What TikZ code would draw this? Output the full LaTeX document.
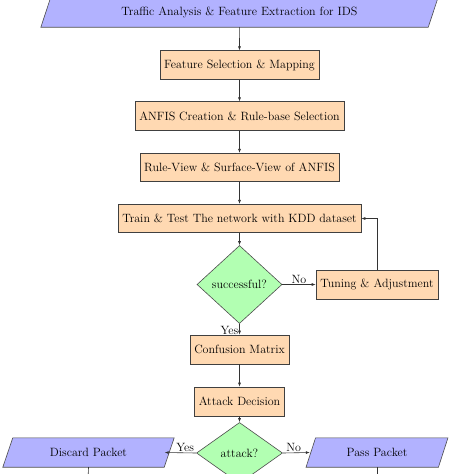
\documentclass[tikz,border=0pt]{standalone}
\usetikzlibrary{shapes.geometric,arrows.meta}
\begin{document}
\begin{tikzpicture}[x=1pt,y=-1pt,
  every node/.style={font=\fontsize{12}{14}\selectfont},
  procbox/.style={rectangle,draw=black!75,fill=orange!30,inner sep=0pt,line width=0.6pt},
  iobox/.style={rectangle,inner sep=0pt},
  iofill/.style={draw=black!70,fill=blue!30,line width=0.6pt},
  decbox/.style={diamond,draw=black!70,fill=green!30,inner sep=0pt,line width=0.6pt,aspect=1},
  conn/.style={draw=black!80,line width=0.6pt,-{Latex[length=4pt,width=3pt]}},
  plain/.style={draw=black!80,line width=0.6pt},
  lbl/.style={inner sep=1pt}]
\useasboundingbox (0,0) rectangle (474,474);
% input parallelogram
\node[iobox,minimum width=387pt,minimum height=29pt] (top) at (239.4,12.5) {};
\path[iofill] ([xshift=-4.85pt]top.south west) -- ([xshift=-4.85pt]top.south east)
  -- ([xshift=4.85pt]top.north east) -- ([xshift=4.85pt]top.north west) -- cycle;
\node at (top) {Traffic Analysis \& Feature Extraction for IDS};
% process boxes
\node[procbox,minimum width=159pt,minimum height=28.5pt] (fs) at (239.5,65) {Feature Selection \& Mapping};
\node[procbox,minimum width=209pt,minimum height=28.5pt] (anfis) at (239.5,116) {ANFIS Creation \& Rule-base Selection};
\node[procbox,minimum width=199pt,minimum height=28.5pt] (rv) at (239.5,167.5) {Rule-View \& Surface-View of ANFIS};
\node[procbox,minimum width=243pt,minimum height=28.5pt] (tt) at (239.5,218.5) {Train \& Test The network with KDD dataset};
\node[decbox,minimum width=85pt,minimum height=78pt] (succ) at (239.5,284.5) {successful?};
\node[procbox,minimum width=122pt,minimum height=29pt] (tune) at (377,284.5) {Tuning \& Adjustment};
\node[procbox,minimum width=99pt,minimum height=29pt] (cm) at (239.5,349.5) {Confusion Matrix};
\node[procbox,minimum width=90pt,minimum height=29pt] (ad) at (239.5,401.5) {Attack Decision};
\node[decbox,minimum width=86pt,minimum height=61pt] (att) at (239.5,453) {attack?};
% output parallelograms
\node[iobox,minimum width=161pt,minimum height=29pt] (disc) at (88.5,452.5) {};
\path[iofill] ([xshift=-5pt]disc.south west) -- ([xshift=-5pt]disc.south east)
  -- ([xshift=5pt]disc.north east) -- ([xshift=5pt]disc.north west) -- cycle;
\node at (disc) {Discard Packet};
\node[iobox,minimum width=132pt,minimum height=29pt] (pass) at (377,452.5) {};
\path[iofill] ([xshift=-4.75pt]pass.south west) -- ([xshift=-4.75pt]pass.south east)
  -- ([xshift=4.75pt]pass.north east) -- ([xshift=4.75pt]pass.north west) -- cycle;
\node at (pass) {Pass Packet};
\coordinate (discend) at (88,480);
\coordinate (passend) at (377,480);
% connectors
\draw[conn] (top.south) -- (fs.north);
\draw[conn] (fs) -- (anfis);
\draw[conn] (anfis) -- (rv);
\draw[conn] (rv) -- (tt);
\draw[conn] (tt) -- (succ);
\draw[conn] (succ) -- node[lbl,above,pos=0.5]{No} (tune);
\draw[conn] (tune.north) |- (tt.east);
\draw[conn] (succ) -- node[lbl,left,pos=0.65]{Yes} (cm);
\draw[conn] (cm) -- (ad);
\draw[conn] (ad) -- (att);
\draw[conn] (att.west) -- node[lbl,above,pos=0.35]{Yes} ([xshift=-4.5pt]disc.east);
\draw[conn] (att.east) -- node[lbl,above,pos=0.4]{No} ([xshift=-1pt]pass.west);
\draw[plain] (disc.south) -- (discend);
\draw[plain] (pass.south) -- (passend);
\end{tikzpicture}
\end{document}
